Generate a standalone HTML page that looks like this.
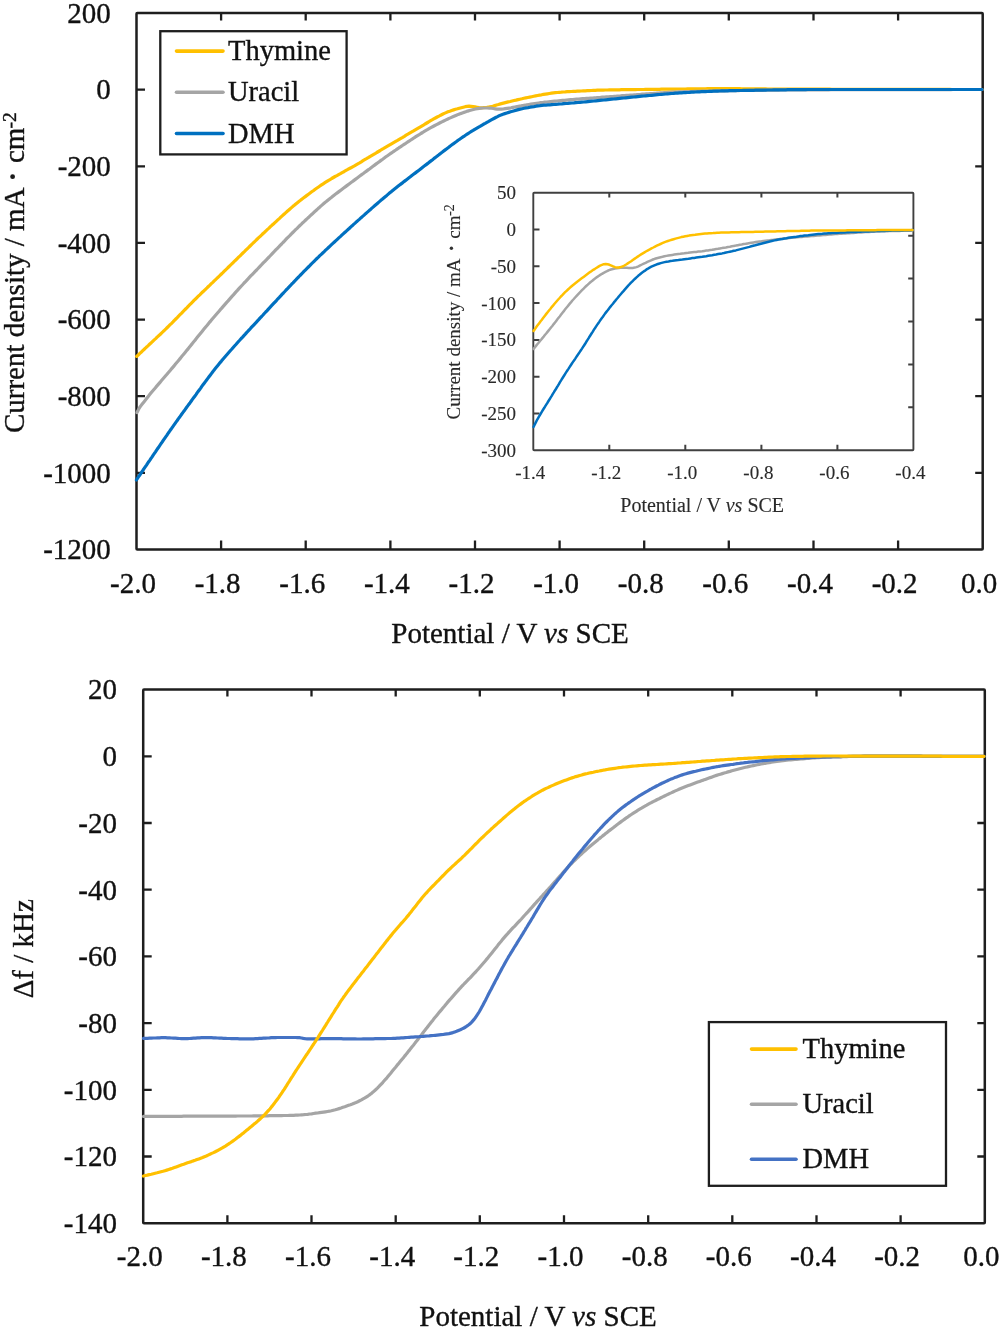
<!DOCTYPE html>
<html><head><meta charset="utf-8"><style>
html,body{margin:0;padding:0;background:#fff;}
svg{display:block;will-change:transform;}
text{font-family:"Liberation Serif",serif;fill:#111;stroke:#111;stroke-width:0.35px;}
.t29{font-size:29px;}
.t28{font-size:28.5px;}
.t17{font-size:19.5px;}
.t19{font-size:19px;fill:#2a2a2a;stroke:#2a2a2a;stroke-width:0.12px;}
.t20{font-size:20px;fill:#2a2a2a;stroke:#2a2a2a;stroke-width:0.12px;}
.t12{font-size:14px;fill:#2a2a2a;stroke:#2a2a2a;stroke-width:0.1px;}
</style></head><body>
<svg width="1000" height="1330" viewBox="0 0 1000 1330">
<rect width="1000" height="1330" fill="#fff"/>
<g>
<path d="M221.1,13.0 V20.5 M221.1,549.5 V540.5 M305.7,13.0 V20.5 M305.7,549.5 V540.5 M390.4,13.0 V20.5 M390.4,549.5 V540.5 M475.0,13.0 V20.5 M475.0,549.5 V540.5 M559.6,13.0 V20.5 M559.6,549.5 V540.5 M644.2,13.0 V20.5 M644.2,549.5 V540.5 M728.8,13.0 V20.5 M728.8,549.5 V540.5 M813.5,13.0 V20.5 M813.5,549.5 V540.5 M898.1,13.0 V20.5 M898.1,549.5 V540.5 M136.5,89.6 H145.0 M136.5,166.3 H145.0 M136.5,242.9 H145.0 M136.5,319.6 H145.0 M136.5,396.2 H145.0 M136.5,472.9 H145.0 M982.7,89.6 H975.2 M982.7,166.3 H975.2 M982.7,242.9 H975.2 M982.7,319.6 H975.2 M982.7,396.2 H975.2 M982.7,472.9 H975.2" stroke="#1e1e1e" stroke-width="2.3" fill="none"/>
<rect x="136.5" y="13.0" width="846.2" height="536.5" stroke="#1e1e1e" stroke-width="2.5" fill="none" rx="0.8"/>
<text x="110.8" y="22.8" class="t29" text-anchor="end">200</text>
<text x="110.8" y="99.4" class="t29" text-anchor="end">0</text>
<text x="110.8" y="176.1" class="t29" text-anchor="end">-200</text>
<text x="110.8" y="252.7" class="t29" text-anchor="end">-400</text>
<text x="110.8" y="329.4" class="t29" text-anchor="end">-600</text>
<text x="110.8" y="406.0" class="t29" text-anchor="end">-800</text>
<text x="110.8" y="482.7" class="t29" text-anchor="end">-1000</text>
<text x="110.8" y="559.3" class="t29" text-anchor="end">-1200</text>
<text x="133.0" y="592.5" class="t29" text-anchor="middle">-2.0</text>
<text x="217.6" y="592.5" class="t29" text-anchor="middle">-1.8</text>
<text x="302.2" y="592.5" class="t29" text-anchor="middle">-1.6</text>
<text x="386.9" y="592.5" class="t29" text-anchor="middle">-1.4</text>
<text x="471.5" y="592.5" class="t29" text-anchor="middle">-1.2</text>
<text x="556.1" y="592.5" class="t29" text-anchor="middle">-1.0</text>
<text x="640.7" y="592.5" class="t29" text-anchor="middle">-0.8</text>
<text x="725.3" y="592.5" class="t29" text-anchor="middle">-0.6</text>
<text x="810.0" y="592.5" class="t29" text-anchor="middle">-0.4</text>
<text x="894.6" y="592.5" class="t29" text-anchor="middle">-0.2</text>
<text x="979.2" y="592.5" class="t29" text-anchor="middle">0.0</text>
<text x="510" y="643" class="t29" text-anchor="middle">Potential / V <tspan font-style="italic">vs</tspan> SCE</text>
<g transform="translate(23.9,440) rotate(-90)"><text x="6.9" y="0" class="t29">Current density / mA</text><text x="276.9" y="0" class="t29">cm</text><text x="311.5" y="-8.3" class="t17">-2</text></g>
<circle cx="12.6" cy="176.7" r="2.4" fill="#1a1a1a"/>
<rect x="160.3" y="31.2" width="186.3" height="123.2" stroke="#1e1e1e" stroke-width="2.3" fill="#fff"/>
<path d="M176.5,51.1 H223" stroke="#FFC000" stroke-width="3.6" stroke-linecap="round"/>
<text x="228" y="60.1" class="t28">Thymine</text>
<path d="M176.5,92.3 H223" stroke="#A5A5A5" stroke-width="3.6" stroke-linecap="round"/>
<text x="228" y="101.3" class="t28">Uracil</text>
<path d="M176.5,133.5 H223" stroke="#0070C0" stroke-width="3.6" stroke-linecap="round"/>
<text x="228" y="142.5" class="t28">DMH</text>
<path d="M136.7,356.4 138.2,355.0 139.6,353.6 141.1,352.3 142.5,350.9 144.0,349.5 145.4,348.1 146.9,346.8 148.4,345.4 149.8,344.0 151.3,342.7 152.7,341.3 154.2,339.9 155.7,338.6 157.1,337.2 158.6,335.8 160.1,334.5 161.5,333.1 163.0,331.7 164.4,330.3 165.9,328.9 167.3,327.5 168.7,326.1 170.1,324.7 171.6,323.3 173.0,321.9 174.4,320.4 175.8,319.0 177.2,317.6 178.6,316.1 180.0,314.7 181.4,313.3 182.8,311.8 184.2,310.4 185.6,309.0 187.0,307.6 188.4,306.1 189.8,304.7 191.2,303.3 192.6,301.9 194.0,300.4 195.5,299.0 196.9,297.6 198.3,296.2 199.8,294.8 201.2,293.4 202.6,292.0 204.1,290.7 205.5,289.3 207.0,287.9 208.4,286.5 209.9,285.1 211.3,283.7 212.8,282.3 214.2,280.9 215.6,279.6 217.1,278.2 218.5,276.8 220.0,275.4 221.4,274.0 222.9,272.6 224.3,271.2 225.7,269.8 227.2,268.4 228.6,267.0 230.0,265.6 231.5,264.2 232.9,262.8 234.3,261.4 235.8,260.0 237.2,258.6 238.6,257.2 240.1,255.8 241.5,254.4 242.9,253.0 244.4,251.6 245.8,250.2 247.2,248.8 248.7,247.4 250.1,246.0 251.5,244.6 253.0,243.2 254.4,241.8 255.9,240.4 257.3,239.0 258.7,237.7 260.2,236.3 261.7,234.9 263.1,233.5 264.6,232.2 266.0,230.8 267.5,229.4 269.0,228.1 270.4,226.7 271.9,225.3 273.4,224.0 274.9,222.6 276.3,221.3 277.8,219.9 279.3,218.6 280.8,217.2 282.2,215.9 283.7,214.5 285.2,213.2 286.7,211.8 288.2,210.5 289.7,209.2 291.2,207.9 292.7,206.6 294.3,205.3 295.8,204.0 297.4,202.7 298.9,201.5 300.5,200.3 302.1,199.0 303.7,197.8 305.3,196.6 306.9,195.4 308.5,194.2 310.1,193.0 311.7,191.8 313.3,190.7 314.9,189.5 316.6,188.3 318.2,187.2 319.9,186.0 321.5,184.9 323.2,183.8 324.9,182.7 326.5,181.7 328.2,180.6 330.0,179.6 331.7,178.5 333.4,177.5 335.1,176.5 336.9,175.6 338.6,174.6 340.4,173.6 342.1,172.6 343.9,171.7 345.6,170.7 347.4,169.7 349.1,168.7 350.9,167.8 352.6,166.8 354.4,165.8 356.1,164.8 357.8,163.8 359.6,162.8 361.3,161.8 363.0,160.7 364.7,159.7 366.5,158.7 368.2,157.7 369.9,156.6 371.6,155.6 373.3,154.6 375.1,153.6 376.8,152.5 378.5,151.5 380.2,150.5 381.9,149.4 383.7,148.4 385.4,147.4 387.1,146.4 388.8,145.4 390.6,144.3 392.3,143.3 394.0,142.3 395.7,141.3 397.5,140.3 399.2,139.3 400.9,138.3 402.7,137.3 404.4,136.3 406.1,135.2 407.9,134.2 409.6,133.2 411.3,132.2 413.1,131.2 414.8,130.2 416.5,129.2 418.2,128.2 420.0,127.1 421.7,126.1 423.4,125.1 425.1,124.0 426.8,123.0 428.5,122.0 430.2,120.9 432.0,119.9 433.7,118.9 435.4,118.0 437.2,117.0 439.0,116.1 440.7,115.2 442.5,114.3 444.3,113.4 446.1,112.6 447.9,111.8 449.8,111.2 451.7,110.5 453.6,109.9 455.5,109.3 457.5,108.8 459.4,108.2 461.3,107.7 463.3,107.2 465.2,106.7 467.1,106.4 469.1,106.2 471.1,106.3 473.1,106.5 475.1,106.8 477.0,107.2 479.0,107.6 480.9,107.8 482.9,107.7 484.9,107.5 486.9,107.3 488.9,107.0 490.8,106.7 492.8,106.2 494.7,105.6 496.6,105.0 498.5,104.5 500.5,103.9 502.4,103.4 504.4,102.9 506.3,102.4 508.2,101.9 510.2,101.5 512.1,101.0 514.1,100.5 516.0,100.1 518.0,99.6 519.9,99.2 521.9,98.8 523.9,98.3 525.8,97.9 527.8,97.5 529.7,97.1 531.7,96.7 533.7,96.3 535.6,95.9 537.6,95.5 539.6,95.1 541.5,94.8 543.5,94.4 545.5,94.1 547.4,93.8 549.4,93.5 551.4,93.2 553.4,92.9 555.4,92.7 557.3,92.5 559.3,92.3 561.3,92.2 563.3,92.0 565.3,91.9 567.3,91.7 569.3,91.6 571.3,91.5 573.3,91.4 575.3,91.3 577.3,91.2 579.3,91.1 581.3,91.0 583.3,90.9 585.3,90.8 587.3,90.7 589.3,90.6 591.3,90.5 593.3,90.4 595.3,90.3 597.3,90.2 599.3,90.2 601.3,90.1 603.3,90.1 605.3,90.0 607.3,90.0 609.3,89.9 611.3,89.9 613.3,89.8 615.4,89.8 617.4,89.8 619.4,89.8 621.4,89.7 623.4,89.7 625.4,89.7 627.4,89.7 629.4,89.6 631.4,89.6 633.4,89.6 635.4,89.6 637.4,89.5 639.4,89.5 641.4,89.5 643.4,89.5 645.4,89.4 647.4,89.4 649.4,89.4 651.4,89.4 653.4,89.3 655.4,89.3 657.4,89.3 659.4,89.3 661.4,89.2 663.4,89.2 665.4,89.2 667.4,89.2 669.4,89.1 671.4,89.1 673.5,89.1 675.5,89.1 677.5,89.0 679.5,89.0 681.5,89.0 683.5,89.0 685.5,89.0 687.5,88.9 689.5,88.9 691.5,88.9 693.5,88.9 695.5,88.9 697.5,88.8 699.5,88.8 701.5,88.8 703.5,88.8 705.5,88.8 707.5,88.7 709.5,88.7 711.5,88.7 713.5,88.7 715.5,88.7 717.5,88.7 719.5,88.7 721.5,88.7 723.5,88.7 725.5,88.7 727.5,88.7 729.5,88.7 731.6,88.7 733.6,88.7 735.6,88.7 737.6,88.7 739.6,88.7 741.6,88.8 743.6,88.8 745.6,88.8 747.6,88.8 749.6,88.8 751.6,88.8 753.6,88.9 755.6,88.9 757.6,88.9 759.6,88.9 761.6,88.9 763.6,88.9 765.6,88.9 767.6,89.0 769.6,89.0 771.6,89.0 773.6,89.0 775.6,89.0 777.6,89.0 779.6,89.0 781.6,89.1 783.6,89.1 785.6,89.1 787.7,89.1 789.7,89.1 791.7,89.1 793.7,89.1 795.7,89.2 797.7,89.2 799.7,89.2 801.7,89.2 803.7,89.2 805.7,89.2 807.7,89.2 809.7,89.2 811.7,89.2 813.7,89.2 815.7,89.2 817.7,89.2 819.7,89.2 821.7,89.2 823.7,89.2 825.7,89.2 827.7,89.2 829.7,89.2 831.7,89.3 833.7,89.3 835.7,89.3 837.7,89.3 839.7,89.3 841.7,89.3 843.8,89.3 845.8,89.3 847.8,89.3 849.8,89.3 851.8,89.3 853.8,89.3 855.8,89.3 857.8,89.3 859.8,89.3 861.8,89.3 863.8,89.3 865.8,89.3 867.8,89.3 869.8,89.3 871.8,89.3 873.8,89.3 875.8,89.3 877.8,89.3 879.8,89.3 881.8,89.3 883.8,89.3 885.8,89.3 887.8,89.3 889.8,89.3 891.8,89.4 893.8,89.4 895.8,89.4 897.8,89.4 899.9,89.4 901.9,89.4 903.9,89.4 905.9,89.4 907.9,89.4 909.9,89.4 911.9,89.4 913.9,89.4 915.9,89.4 917.9,89.4 919.9,89.4 921.9,89.4 923.9,89.4 925.9,89.4 927.9,89.4 929.9,89.4 931.9,89.4 933.9,89.4 935.9,89.4 937.9,89.4 939.9,89.4 941.9,89.4 943.9,89.4 945.9,89.4 947.9,89.4 949.9,89.4 951.9,89.5 953.9,89.5 956.0,89.5 958.0,89.5 960.0,89.5 962.0,89.5 964.0,89.5 966.0,89.5 968.0,89.5 970.0,89.5 972.0,89.5 974.0,89.5 976.0,89.5 978.0,89.5 980.0,89.5 982.0,89.5" stroke="#FFC000" stroke-width="3.2" fill="none" stroke-linejoin="round" stroke-linecap="round"/>
<path d="M137.0,412.5 137.9,410.7 138.8,408.9 139.9,407.2 141.0,405.6 142.2,404.0 143.5,402.4 144.7,400.9 146.0,399.3 147.2,397.7 148.4,396.2 149.7,394.6 150.9,393.1 152.2,391.5 153.5,390.0 154.8,388.5 156.1,386.9 157.4,385.4 158.7,383.9 160.0,382.4 161.3,380.8 162.6,379.3 163.9,377.8 165.2,376.3 166.5,374.8 167.8,373.2 169.1,371.7 170.4,370.2 171.7,368.6 173.0,367.1 174.3,365.6 175.5,364.0 176.8,362.5 178.1,361.0 179.4,359.4 180.7,357.9 181.9,356.3 183.2,354.8 184.5,353.2 185.7,351.7 187.0,350.1 188.3,348.6 189.5,347.0 190.8,345.4 192.1,343.9 193.3,342.3 194.6,340.8 195.8,339.2 197.1,337.6 198.3,336.1 199.6,334.5 200.8,333.0 202.1,331.4 203.4,329.8 204.6,328.3 205.9,326.7 207.2,325.2 208.4,323.7 209.7,322.1 211.0,320.6 212.3,319.0 213.6,317.5 214.9,316.0 216.2,314.5 217.5,313.0 218.8,311.5 220.1,309.9 221.5,308.4 222.8,306.9 224.1,305.4 225.4,303.9 226.7,302.4 228.1,300.9 229.4,299.4 230.7,297.9 232.0,296.4 233.4,294.9 234.7,293.4 236.0,291.9 237.4,290.4 238.7,288.9 240.1,287.4 241.4,286.0 242.8,284.5 244.1,283.0 245.5,281.6 246.9,280.1 248.3,278.6 249.6,277.2 251.0,275.7 252.4,274.3 253.8,272.9 255.2,271.4 256.6,270.0 258.0,268.5 259.3,267.1 260.7,265.6 262.1,264.2 263.5,262.7 264.9,261.3 266.3,259.9 267.7,258.4 269.1,257.0 270.5,255.5 271.8,254.1 273.2,252.6 274.6,251.2 276.0,249.7 277.4,248.3 278.8,246.9 280.2,245.4 281.6,244.0 283.0,242.5 284.4,241.1 285.7,239.7 287.1,238.2 288.5,236.8 290.0,235.4 291.4,233.9 292.8,232.5 294.2,231.1 295.6,229.7 297.1,228.3 298.5,226.9 299.9,225.5 301.4,224.1 302.8,222.7 304.3,221.4 305.7,220.0 307.2,218.6 308.7,217.3 310.1,215.9 311.6,214.5 313.1,213.2 314.5,211.8 316.0,210.5 317.5,209.1 319.0,207.8 320.5,206.4 322.0,205.1 323.5,203.8 325.0,202.5 326.6,201.3 328.1,200.0 329.7,198.7 331.3,197.5 332.8,196.3 334.4,195.0 336.0,193.8 337.6,192.6 339.2,191.4 340.8,190.2 342.4,189.0 344.0,187.8 345.6,186.6 347.2,185.4 348.8,184.2 350.4,183.0 352.1,181.8 353.7,180.6 355.3,179.4 356.9,178.2 358.5,177.0 360.1,175.8 361.7,174.6 363.3,173.5 364.9,172.3 366.5,171.1 368.1,169.9 369.8,168.7 371.4,167.5 373.0,166.3 374.6,165.1 376.2,163.9 377.8,162.7 379.4,161.6 381.0,160.4 382.7,159.2 384.3,158.0 385.9,156.8 387.5,155.7 389.2,154.5 390.8,153.4 392.5,152.2 394.1,151.1 395.8,150.0 397.4,148.9 399.1,147.7 400.8,146.6 402.4,145.5 404.1,144.4 405.8,143.3 407.4,142.2 409.1,141.1 410.8,140.0 412.5,138.9 414.1,137.8 415.8,136.7 417.5,135.6 419.2,134.6 420.9,133.5 422.6,132.5 424.3,131.4 426.0,130.4 427.8,129.4 429.5,128.4 431.3,127.4 433.0,126.5 434.8,125.5 436.5,124.6 438.3,123.7 440.1,122.8 441.9,121.9 443.7,121.0 445.5,120.1 447.3,119.3 449.1,118.4 450.9,117.6 452.8,116.8 454.6,116.0 456.4,115.2 458.3,114.4 460.1,113.7 462.0,113.1 463.9,112.4 465.8,111.8 467.7,111.1 469.6,110.5 471.5,110.0 473.4,109.5 475.4,109.0 477.3,108.6 479.3,108.3 481.3,108.1 483.3,108.0 485.3,108.0 487.3,108.0 489.3,108.1 491.3,108.2 493.3,108.5 495.2,108.8 497.2,109.1 499.2,109.2 501.2,109.2 503.2,109.0 505.1,108.7 507.1,108.4 509.1,108.1 511.1,107.8 513.0,107.4 515.0,107.0 517.0,106.6 518.9,106.2 520.9,105.9 522.9,105.5 524.9,105.2 526.8,104.8 528.8,104.5 530.8,104.2 532.8,103.9 534.7,103.6 536.7,103.3 538.7,103.0 540.7,102.7 542.7,102.5 544.7,102.2 546.7,102.0 548.6,101.8 550.6,101.6 552.6,101.4 554.6,101.2 556.6,101.0 558.6,100.8 560.6,100.6 562.6,100.4 564.6,100.3 566.6,100.1 568.6,99.9 570.6,99.7 572.6,99.6 574.6,99.4 576.6,99.2 578.6,99.1 580.6,98.9 582.6,98.7 584.6,98.6 586.6,98.4 588.6,98.3 590.6,98.1 592.5,98.0 594.5,97.8 596.5,97.7 598.5,97.5 600.5,97.4 602.5,97.2 604.5,97.1 606.5,96.9 608.5,96.8 610.5,96.6 612.5,96.5 614.5,96.3 616.5,96.2 618.5,96.0 620.5,95.9 622.5,95.7 624.5,95.6 626.5,95.4 628.5,95.3 630.5,95.1 632.5,95.0 634.5,94.8 636.5,94.7 638.5,94.5 640.5,94.4 642.5,94.2 644.5,94.1 646.5,93.9 648.5,93.8 650.5,93.6 652.5,93.5 654.5,93.3 656.5,93.2 658.5,93.0 660.5,92.9 662.5,92.8 664.5,92.6 666.5,92.5 668.5,92.4 670.5,92.3 672.5,92.2 674.5,92.1 676.5,92.0 678.5,91.9 680.5,91.8 682.5,91.8 684.5,91.7 686.5,91.7 688.5,91.6 690.5,91.5 692.5,91.5 694.5,91.4 696.5,91.4 698.5,91.3 700.5,91.3 702.5,91.2 704.5,91.2 706.5,91.1 708.5,91.1 710.5,91.0 712.5,91.0 714.5,91.0 716.5,90.9 718.5,90.9 720.5,90.8 722.5,90.8 724.5,90.8 726.6,90.7 728.6,90.7 730.6,90.7 732.6,90.6 734.6,90.6 736.6,90.6 738.6,90.6 740.6,90.5 742.6,90.5 744.6,90.5 746.6,90.5 748.6,90.4 750.6,90.4 752.6,90.4 754.6,90.4 756.6,90.3 758.6,90.3 760.6,90.3 762.6,90.3 764.6,90.2 766.6,90.2 768.6,90.2 770.6,90.2 772.6,90.1 774.6,90.1 776.6,90.1 778.6,90.1 780.6,90.0 782.6,90.0 784.6,90.0 786.7,90.0 788.7,89.9 790.7,89.9 792.7,89.9 794.7,89.9 796.7,89.9 798.7,89.9 800.7,89.8 802.7,89.8 804.7,89.8 806.7,89.8 808.7,89.8 810.7,89.8 812.7,89.8 814.7,89.8 816.7,89.8 818.7,89.8 820.7,89.8 822.7,89.8 824.7,89.8 826.7,89.8 828.7,89.8 830.7,89.7 832.7,89.7 834.7,89.7 836.7,89.7 838.7,89.7 840.7,89.7 842.8,89.7 844.8,89.7 846.8,89.7 848.8,89.7 850.8,89.7 852.8,89.7 854.8,89.7 856.8,89.7 858.8,89.7 860.8,89.7 862.8,89.7 864.8,89.7 866.8,89.7 868.8,89.7 870.8,89.7 872.8,89.7 874.8,89.7 876.8,89.7 878.8,89.7 880.8,89.7 882.8,89.7 884.8,89.7 886.8,89.7 888.8,89.7 890.8,89.7 892.8,89.6 894.8,89.6 896.8,89.6 898.9,89.6 900.9,89.6 902.9,89.6 904.9,89.6 906.9,89.6 908.9,89.6 910.9,89.6 912.9,89.6 914.9,89.6 916.9,89.6 918.9,89.6 920.9,89.6 922.9,89.6 924.9,89.6 926.9,89.6 928.9,89.6 930.9,89.6 932.9,89.6 934.9,89.6 936.9,89.6 938.9,89.6 940.9,89.6 942.9,89.6 944.9,89.6 946.9,89.6 948.9,89.6 950.9,89.6 952.9,89.5 955.0,89.5 957.0,89.5 959.0,89.5 961.0,89.5 963.0,89.5 965.0,89.5 967.0,89.5 969.0,89.5 971.0,89.5 973.0,89.5 975.0,89.5 977.0,89.5 979.0,89.5 981.0,89.5 982.0,89.5" stroke="#A5A5A5" stroke-width="3.2" fill="none" stroke-linejoin="round" stroke-linecap="round"/>
<path d="M136.4,480.0 137.5,478.3 138.6,476.7 139.8,475.0 140.9,473.4 142.0,471.7 143.1,470.0 144.2,468.4 145.4,466.7 146.5,465.1 147.6,463.4 148.7,461.7 149.9,460.1 151.0,458.4 152.1,456.8 153.2,455.1 154.4,453.4 155.5,451.8 156.6,450.1 157.7,448.5 158.9,446.8 160.0,445.2 161.1,443.5 162.3,441.9 163.4,440.2 164.5,438.6 165.7,436.9 166.8,435.3 167.9,433.6 169.1,432.0 170.2,430.3 171.4,428.7 172.5,427.1 173.7,425.4 174.8,423.8 176.0,422.1 177.2,420.5 178.3,418.9 179.5,417.3 180.7,415.6 181.8,414.0 183.0,412.4 184.2,410.8 185.4,409.1 186.5,407.5 187.7,405.9 188.9,404.3 190.1,402.7 191.3,401.0 192.4,399.4 193.6,397.8 194.8,396.2 196.0,394.6 197.1,392.9 198.3,391.3 199.5,389.7 200.7,388.1 201.8,386.4 203.0,384.8 204.2,383.2 205.4,381.6 206.6,380.0 207.8,378.4 209.0,376.8 210.2,375.2 211.4,373.6 212.6,372.0 213.8,370.4 215.1,368.8 216.3,367.3 217.6,365.7 218.8,364.2 220.1,362.6 221.4,361.1 222.7,359.5 224.0,358.0 225.3,356.5 226.6,355.0 227.9,353.5 229.2,352.0 230.5,350.5 231.9,349.0 233.2,347.5 234.5,346.0 235.9,344.5 237.2,343.0 238.5,341.5 239.9,340.0 241.2,338.5 242.6,337.1 243.9,335.6 245.3,334.1 246.6,332.6 248.0,331.2 249.4,329.7 250.7,328.2 252.1,326.7 253.4,325.3 254.8,323.8 256.2,322.3 257.5,320.9 258.9,319.4 260.2,317.9 261.6,316.5 263.0,315.0 264.3,313.5 265.7,312.0 267.1,310.6 268.4,309.1 269.8,307.6 271.1,306.2 272.5,304.7 273.9,303.2 275.2,301.8 276.6,300.3 277.9,298.8 279.3,297.4 280.7,295.9 282.0,294.4 283.4,293.0 284.8,291.5 286.1,290.0 287.5,288.6 288.9,287.1 290.3,285.7 291.6,284.2 293.0,282.8 294.4,281.3 295.8,279.9 297.2,278.4 298.6,277.0 300.0,275.5 301.4,274.1 302.8,272.7 304.2,271.2 305.6,269.8 307.0,268.4 308.4,267.0 309.8,265.6 311.2,264.1 312.7,262.7 314.1,261.3 315.5,259.9 316.9,258.5 318.4,257.1 319.8,255.7 321.3,254.3 322.7,253.0 324.2,251.6 325.6,250.2 327.1,248.8 328.5,247.5 330.0,246.1 331.5,244.7 332.9,243.4 334.4,242.0 335.9,240.6 337.3,239.3 338.8,237.9 340.3,236.6 341.8,235.2 343.2,233.9 344.7,232.5 346.2,231.2 347.7,229.8 349.2,228.5 350.6,227.1 352.1,225.8 353.6,224.4 355.1,223.1 356.6,221.7 358.1,220.4 359.6,219.1 361.1,217.7 362.6,216.4 364.1,215.1 365.6,213.7 367.1,212.4 368.6,211.1 370.1,209.8 371.6,208.4 373.1,207.1 374.6,205.8 376.1,204.5 377.6,203.2 379.1,201.9 380.6,200.6 382.2,199.3 383.7,198.0 385.2,196.7 386.8,195.4 388.3,194.1 389.8,192.8 391.4,191.6 393.0,190.3 394.5,189.1 396.1,187.8 397.6,186.6 399.2,185.3 400.8,184.1 402.4,182.9 404.0,181.6 405.6,180.4 407.1,179.2 408.7,178.0 410.3,176.8 411.9,175.5 413.5,174.3 415.1,173.1 416.7,171.9 418.3,170.7 419.9,169.5 421.5,168.2 423.0,167.0 424.6,165.8 426.2,164.6 427.8,163.4 429.4,162.1 431.0,160.9 432.6,159.7 434.1,158.4 435.7,157.2 437.3,156.0 438.9,154.8 440.5,153.5 442.1,152.3 443.6,151.1 445.2,149.9 446.8,148.7 448.4,147.5 450.0,146.2 451.6,145.0 453.2,143.9 454.8,142.7 456.5,141.5 458.1,140.3 459.7,139.2 461.4,138.0 463.0,136.9 464.7,135.8 466.3,134.7 468.0,133.6 469.7,132.5 471.4,131.4 473.1,130.4 474.8,129.3 476.5,128.3 478.2,127.3 480.0,126.3 481.7,125.3 483.4,124.3 485.2,123.4 486.9,122.4 488.7,121.4 490.4,120.4 492.2,119.4 493.9,118.5 495.7,117.5 497.5,116.6 499.2,115.7 501.1,114.9 502.9,114.2 504.8,113.6 506.8,113.0 508.7,112.4 510.6,111.8 512.5,111.3 514.4,110.7 516.4,110.1 518.3,109.6 520.2,109.1 522.2,108.7 524.1,108.3 526.1,107.9 528.1,107.6 530.1,107.2 532.0,106.9 534.0,106.6 536.0,106.2 538.0,105.9 539.9,105.7 541.9,105.4 543.9,105.2 545.9,105.1 547.9,104.9 549.9,104.8 551.9,104.6 553.9,104.5 555.9,104.3 557.9,104.2 559.9,104.0 561.9,103.9 563.9,103.7 565.9,103.5 567.9,103.4 569.9,103.2 571.9,103.0 573.9,102.9 575.9,102.7 577.9,102.5 579.9,102.3 581.8,102.1 583.8,102.0 585.8,101.8 587.8,101.6 589.8,101.4 591.8,101.2 593.8,101.0 595.8,100.8 597.8,100.6 599.8,100.4 601.8,100.2 603.8,100.0 605.8,99.8 607.8,99.6 609.8,99.4 611.8,99.2 613.7,99.0 615.7,98.8 617.7,98.6 619.7,98.4 621.7,98.2 623.7,98.0 625.7,97.8 627.7,97.6 629.7,97.4 631.7,97.2 633.7,97.0 635.7,96.8 637.7,96.6 639.7,96.4 641.7,96.2 643.7,96.0 645.6,95.8 647.6,95.6 649.6,95.5 651.6,95.3 653.6,95.1 655.6,94.9 657.6,94.7 659.6,94.5 661.6,94.3 663.6,94.2 665.6,94.0 667.6,93.8 669.6,93.7 671.6,93.5 673.6,93.4 675.6,93.2 677.6,93.1 679.6,92.9 681.6,92.8 683.6,92.7 685.6,92.6 687.6,92.5 689.6,92.4 691.6,92.2 693.6,92.1 695.6,92.0 697.6,91.9 699.6,91.8 701.6,91.7 703.6,91.7 705.6,91.6 707.6,91.5 709.6,91.4 711.6,91.3 713.6,91.2 715.6,91.1 717.6,91.1 719.6,91.0 721.6,90.9 723.6,90.9 725.6,90.8 727.6,90.8 729.6,90.7 731.6,90.7 733.6,90.6 735.6,90.6 737.6,90.5 739.6,90.5 741.6,90.5 743.6,90.4 745.6,90.4 747.6,90.4 749.6,90.3 751.6,90.3 753.6,90.3 755.6,90.2 757.6,90.2 759.6,90.2 761.6,90.1 763.6,90.1 765.6,90.1 767.6,90.0 769.7,90.0 771.7,90.0 773.7,89.9 775.7,89.9 777.7,89.9 779.7,89.8 781.7,89.8 783.7,89.8 785.7,89.8 787.7,89.7 789.7,89.7 791.7,89.7 793.7,89.7 795.7,89.6 797.7,89.6 799.7,89.6 801.7,89.6 803.7,89.6 805.7,89.6 807.7,89.5 809.7,89.5 811.7,89.5 813.7,89.5 815.7,89.5 817.7,89.5 819.7,89.5 821.7,89.5 823.7,89.5 825.7,89.5 827.7,89.5 829.7,89.5 831.8,89.5 833.8,89.5 835.8,89.5 837.8,89.5 839.8,89.5 841.8,89.5 843.8,89.5 845.8,89.5 847.8,89.5 849.8,89.5 851.8,89.5 853.8,89.5 855.8,89.5 857.8,89.5 859.8,89.5 861.8,89.5 863.8,89.5 865.8,89.5 867.8,89.5 869.8,89.5 871.8,89.5 873.8,89.5 875.8,89.5 877.8,89.5 879.8,89.5 881.8,89.5 883.8,89.5 885.8,89.5 887.8,89.5 889.8,89.5 891.9,89.5 893.9,89.5 895.9,89.5 897.9,89.5 899.9,89.5 901.9,89.5 903.9,89.5 905.9,89.5 907.9,89.5 909.9,89.5 911.9,89.5 913.9,89.5 915.9,89.5 917.9,89.5 919.9,89.5 921.9,89.5 923.9,89.5 925.9,89.5 927.9,89.5 929.9,89.5 931.9,89.5 933.9,89.5 935.9,89.5 937.9,89.5 939.9,89.5 941.9,89.5 943.9,89.5 945.9,89.5 947.9,89.5 949.9,89.5 952.0,89.5 954.0,89.5 956.0,89.5 958.0,89.5 960.0,89.5 962.0,89.5 964.0,89.5 966.0,89.5 968.0,89.5 970.0,89.5 972.0,89.5 974.0,89.5 976.0,89.5 978.0,89.5 980.0,89.5 982.0,89.5" stroke="#0070C0" stroke-width="3.2" fill="none" stroke-linejoin="round" stroke-linecap="round"/>
<path d="M609.3,192.8 V197.60000000000002 M609.3,450.2 V444.7 M685.3,192.8 V197.60000000000002 M685.3,450.2 V444.7 M761.4,192.8 V197.60000000000002 M761.4,450.2 V444.7 M837.4,192.8 V197.60000000000002 M837.4,450.2 V444.7 M533.3,229.6 H539.5 M533.3,266.3 H539.5 M533.3,303.1 H539.5 M533.3,339.9 H539.5 M533.3,376.7 H539.5 M533.3,413.4 H539.5 M913.4,235.7 H908.1999999999999 M913.4,278.6 H908.1999999999999 M913.4,321.5 H908.1999999999999 M913.4,364.4 H908.1999999999999 M913.4,407.3 H908.1999999999999" stroke="#404040" stroke-width="2.0" fill="none"/>
<rect x="533.3" y="192.8" width="380.1" height="257.4" stroke="#404040" stroke-width="1.9" fill="none" rx="0.8"/>
<text x="516" y="199.3" class="t19" text-anchor="end">50</text>
<text x="516" y="236.1" class="t19" text-anchor="end">0</text>
<text x="516" y="272.8" class="t19" text-anchor="end">-50</text>
<text x="516" y="309.6" class="t19" text-anchor="end">-100</text>
<text x="516" y="346.4" class="t19" text-anchor="end">-150</text>
<text x="516" y="383.2" class="t19" text-anchor="end">-200</text>
<text x="516" y="419.9" class="t19" text-anchor="end">-250</text>
<text x="516" y="456.7" class="t19" text-anchor="end">-300</text>
<text x="530.3" y="478.8" class="t19" text-anchor="middle">-1.4</text>
<text x="606.3" y="478.8" class="t19" text-anchor="middle">-1.2</text>
<text x="682.3" y="478.8" class="t19" text-anchor="middle">-1.0</text>
<text x="758.4" y="478.8" class="t19" text-anchor="middle">-0.8</text>
<text x="834.4" y="478.8" class="t19" text-anchor="middle">-0.6</text>
<text x="910.4" y="478.8" class="t19" text-anchor="middle">-0.4</text>
<text x="702.2" y="512" class="t20" text-anchor="middle">Potential / V <tspan font-style="italic">vs</tspan> SCE</text>
<g transform="translate(459.6,420) rotate(-90)"><text x="0.6" y="0" class="t19">Current density / mA</text><text x="181.3" y="0" class="t19">cm</text><text x="204.1" y="-5.8" class="t12">-2</text></g>
<circle cx="451.4" cy="248.3" r="1.7" fill="#333"/>
<path d="M533.5,349.0 534.8,347.4 536.0,345.9 537.3,344.3 538.6,342.8 539.8,341.2 541.1,339.7 542.4,338.1 543.7,336.6 544.9,335.0 546.2,333.5 547.5,331.9 548.7,330.4 550.0,328.8 551.2,327.2 552.5,325.7 553.7,324.1 555.0,322.5 556.2,320.9 557.4,319.3 558.6,317.8 559.9,316.2 561.1,314.6 562.3,313.0 563.6,311.4 564.8,309.8 566.0,308.3 567.3,306.7 568.6,305.1 569.8,303.6 571.1,302.1 572.4,300.5 573.8,299.0 575.1,297.5 576.4,296.1 577.8,294.6 579.2,293.1 580.6,291.7 582.0,290.2 583.4,288.8 584.8,287.4 586.2,286.0 587.7,284.7 589.2,283.3 590.7,282.0 592.3,280.8 593.8,279.5 595.4,278.3 597.0,277.1 598.6,276.0 600.3,274.9 602.0,273.8 603.7,272.8 605.5,271.9 607.3,271.0 609.1,270.2 610.9,269.5 612.9,269.0 614.8,268.5 616.8,268.2 618.8,267.9 620.7,267.7 622.7,267.7 624.7,267.7 626.7,267.8 628.8,267.9 630.8,267.9 632.7,267.9 634.7,267.6 636.5,267.1 638.4,266.3 640.2,265.4 642.0,264.5 643.8,263.6 645.6,262.8 647.4,261.9 649.2,261.1 651.1,260.3 652.9,259.5 654.8,258.8 656.7,258.2 658.6,257.7 660.6,257.2 662.5,256.8 664.5,256.3 666.4,255.9 668.4,255.5 670.4,255.2 672.3,254.9 674.3,254.6 676.3,254.3 678.3,254.0 680.3,253.8 682.3,253.5 684.3,253.3 686.3,253.0 688.2,252.8 690.2,252.5 692.2,252.3 694.2,252.1 696.2,251.9 698.2,251.6 700.2,251.4 702.2,251.2 704.2,250.9 706.2,250.6 708.1,250.4 710.1,250.1 712.1,249.8 714.1,249.4 716.1,249.1 718.0,248.8 720.0,248.4 722.0,248.1 724.0,247.7 725.9,247.4 727.9,247.0 729.9,246.7 731.9,246.3 733.8,245.9 735.8,245.6 737.8,245.2 739.8,244.8 741.7,244.5 743.7,244.1 745.7,243.8 747.7,243.4 749.6,243.1 751.6,242.7 753.6,242.4 755.6,242.1 757.6,241.8 759.5,241.5 761.5,241.3 763.5,241.0 765.5,240.7 767.5,240.5 769.5,240.3 771.5,240.0 773.5,239.8 775.5,239.5 777.4,239.3 779.4,239.1 781.4,238.8 783.4,238.6 785.4,238.4 787.4,238.2 789.4,238.0 791.4,237.8 793.4,237.6 795.4,237.4 797.4,237.2 799.4,237.1 801.4,236.9 803.4,236.7 805.4,236.5 807.4,236.4 809.4,236.2 811.4,236.0 813.4,235.9 815.4,235.7 817.4,235.5 819.4,235.4 821.4,235.2 823.4,235.0 825.4,234.9 827.4,234.7 829.4,234.6 831.4,234.4 833.4,234.3 835.4,234.1 837.4,234.0 839.4,233.8 841.4,233.7 843.4,233.6 845.4,233.4 847.4,233.3 849.4,233.2 851.4,233.0 853.4,232.9 855.4,232.8 857.4,232.6 859.4,232.5 861.4,232.4 863.4,232.2 865.4,232.1 867.4,232.0 869.4,231.9 871.4,231.8 873.4,231.7 875.4,231.6 877.4,231.5 879.4,231.4 881.4,231.3 883.4,231.3 885.4,231.2 887.4,231.2 889.4,231.1 891.4,231.1 893.4,231.0 895.5,231.0 897.5,230.9 899.5,230.9 901.5,230.8 903.5,230.8 905.5,230.8 907.5,230.7 909.5,230.7 911.5,230.6 912.5,230.6" stroke="#A5A5A5" stroke-width="2.5" fill="none" stroke-linejoin="round" stroke-linecap="round"/>
<path d="M533.5,427.0 534.4,425.2 535.3,423.4 536.2,421.6 537.1,419.8 538.1,418.1 539.1,416.4 540.2,414.6 541.2,412.9 542.2,411.2 543.2,409.5 544.3,407.8 545.3,406.1 546.4,404.4 547.5,402.7 548.5,401.0 549.6,399.3 550.6,397.6 551.7,395.9 552.7,394.1 553.8,392.4 554.8,390.7 555.9,389.0 556.9,387.3 558.0,385.6 559.0,383.9 560.0,382.1 561.1,380.4 562.1,378.7 563.2,377.0 564.3,375.3 565.3,373.6 566.4,371.9 567.5,370.2 568.6,368.6 569.7,366.9 570.8,365.2 571.9,363.5 573.0,361.9 574.2,360.2 575.3,358.6 576.4,356.9 577.5,355.2 578.7,353.6 579.8,351.9 580.9,350.2 582.0,348.6 583.1,346.9 584.2,345.2 585.3,343.5 586.3,341.8 587.4,340.1 588.5,338.4 589.5,336.7 590.6,335.0 591.7,333.3 592.8,331.6 593.8,329.9 594.9,328.3 596.0,326.6 597.1,324.9 598.3,323.2 599.4,321.6 600.5,319.9 601.7,318.3 602.9,316.7 604.0,315.1 605.2,313.4 606.4,311.9 607.7,310.3 608.9,308.7 610.1,307.1 611.4,305.5 612.7,304.0 613.9,302.4 615.2,300.9 616.5,299.3 617.8,297.8 619.0,296.2 620.3,294.7 621.6,293.2 623.0,291.7 624.3,290.1 625.6,288.6 626.9,287.1 628.2,285.6 629.6,284.2 631.0,282.7 632.4,281.3 633.8,279.9 635.3,278.5 636.8,277.1 638.2,275.8 639.8,274.5 641.3,273.2 642.9,272.0 644.6,270.9 646.2,269.7 647.9,268.7 649.6,267.6 651.4,266.7 653.2,265.9 655.0,265.1 656.9,264.3 658.8,263.7 660.7,263.1 662.6,262.6 664.6,262.1 666.5,261.7 668.5,261.4 670.5,261.0 672.5,260.8 674.4,260.5 676.4,260.2 678.4,260.0 680.4,259.7 682.4,259.5 684.4,259.2 686.4,258.9 688.4,258.7 690.4,258.4 692.3,258.1 694.3,257.9 696.3,257.6 698.3,257.3 700.3,257.0 702.3,256.8 704.3,256.5 706.3,256.2 708.2,255.8 710.2,255.5 712.2,255.2 714.2,254.8 716.1,254.5 718.1,254.1 720.1,253.7 722.1,253.4 724.0,253.0 726.0,252.5 727.9,252.1 729.9,251.7 731.9,251.3 733.8,250.8 735.8,250.4 737.7,249.9 739.7,249.4 741.6,248.9 743.6,248.4 745.5,247.9 747.4,247.4 749.4,246.9 751.3,246.3 753.2,245.8 755.2,245.3 757.1,244.7 759.0,244.2 761.0,243.7 762.9,243.2 764.9,242.7 766.8,242.2 768.8,241.7 770.7,241.3 772.7,240.8 774.6,240.4 776.6,240.0 778.6,239.6 780.5,239.2 782.5,238.9 784.5,238.5 786.4,238.2 788.4,237.8 790.4,237.5 792.4,237.2 794.4,236.9 796.4,236.7 798.3,236.4 800.3,236.1 802.3,235.9 804.3,235.6 806.3,235.4 808.3,235.2 810.3,234.9 812.3,234.7 814.3,234.5 816.3,234.3 818.3,234.1 820.3,233.9 822.3,233.8 824.3,233.6 826.3,233.5 828.3,233.3 830.3,233.2 832.3,233.1 834.3,233.0 836.3,232.9 838.3,232.7 840.3,232.6 842.3,232.5 844.3,232.4 846.3,232.3 848.3,232.2 850.3,232.1 852.3,232.0 854.3,231.9 856.3,231.9 858.3,231.8 860.3,231.7 862.3,231.6 864.4,231.5 866.4,231.4 868.4,231.4 870.4,231.3 872.4,231.2 874.4,231.2 876.4,231.1 878.4,231.0 880.4,231.0 882.4,230.9 884.4,230.9 886.4,230.8 888.4,230.8 890.4,230.7 892.4,230.6 894.4,230.6 896.4,230.5 898.5,230.5 900.5,230.4 902.5,230.4 904.5,230.3 906.5,230.3 908.5,230.2 910.5,230.2 912.5,230.1" stroke="#0070C0" stroke-width="2.5" fill="none" stroke-linejoin="round" stroke-linecap="round"/>
<path d="M533.5,331.0 534.7,329.4 535.8,327.7 537.0,326.1 538.2,324.5 539.4,322.9 540.6,321.3 541.9,319.7 543.1,318.1 544.3,316.5 545.5,314.9 546.7,313.4 548.0,311.8 549.2,310.2 550.5,308.7 551.7,307.1 553.0,305.6 554.3,304.0 555.6,302.5 556.9,301.0 558.2,299.5 559.6,298.0 560.9,296.5 562.3,295.1 563.7,293.6 565.1,292.2 566.6,290.8 568.0,289.5 569.5,288.1 571.0,286.8 572.5,285.5 574.1,284.2 575.6,283.0 577.2,281.7 578.8,280.5 580.4,279.3 582.0,278.1 583.6,276.9 585.2,275.7 586.8,274.5 588.4,273.3 590.0,272.1 591.7,271.0 593.3,269.8 595.0,268.8 596.7,267.7 598.4,266.6 600.1,265.6 602.0,264.9 603.8,264.2 605.7,263.9 607.6,264.2 609.5,264.8 611.4,265.6 613.2,266.4 615.0,267.1 616.9,267.6 618.8,267.5 620.8,267.0 622.7,266.4 624.4,265.5 626.1,264.5 627.8,263.4 629.5,262.3 631.2,261.2 632.8,260.0 634.4,258.9 636.1,257.7 637.7,256.6 639.4,255.5 641.1,254.4 642.8,253.4 644.5,252.4 646.3,251.3 648.0,250.3 649.8,249.4 651.5,248.4 653.3,247.5 655.0,246.6 656.8,245.7 658.6,244.8 660.5,244.0 662.3,243.2 664.1,242.4 666.0,241.7 667.9,241.0 669.8,240.4 671.7,239.8 673.6,239.2 675.5,238.6 677.4,238.1 679.4,237.6 681.3,237.1 683.3,236.7 685.2,236.3 687.2,235.9 689.1,235.6 691.1,235.2 693.1,234.9 695.1,234.7 697.1,234.4 699.1,234.2 701.1,234.0 703.0,233.8 705.0,233.6 707.0,233.5 709.0,233.3 711.0,233.2 713.0,233.1 715.0,232.9 717.0,232.8 719.0,232.7 721.0,232.6 723.0,232.6 725.0,232.5 727.1,232.4 729.1,232.4 731.1,232.3 733.1,232.3 735.1,232.3 737.1,232.2 739.1,232.2 741.1,232.1 743.1,232.1 745.1,232.1 747.1,232.0 749.1,232.0 751.1,231.9 753.1,231.9 755.1,231.8 757.1,231.8 759.1,231.8 761.1,231.7 763.1,231.7 765.1,231.6 767.1,231.6 769.1,231.5 771.2,231.5 773.2,231.4 775.2,231.4 777.2,231.3 779.2,231.3 781.2,231.3 783.2,231.2 785.2,231.2 787.2,231.1 789.2,231.1 791.2,231.0 793.2,231.0 795.2,230.9 797.2,230.9 799.2,230.9 801.2,230.8 803.2,230.8 805.2,230.7 807.2,230.7 809.2,230.7 811.2,230.6 813.3,230.6 815.3,230.6 817.3,230.6 819.3,230.5 821.3,230.5 823.3,230.5 825.3,230.5 827.3,230.5 829.3,230.5 831.3,230.5 833.3,230.4 835.3,230.4 837.3,230.4 839.3,230.4 841.3,230.4 843.3,230.4 845.3,230.4 847.3,230.3 849.3,230.3 851.3,230.3 853.4,230.3 855.4,230.3 857.4,230.3 859.4,230.3 861.4,230.2 863.4,230.2 865.4,230.2 867.4,230.2 869.4,230.2 871.4,230.2 873.4,230.2 875.4,230.2 877.4,230.1 879.4,230.1 881.4,230.1 883.4,230.1 885.4,230.1 887.4,230.1 889.4,230.1 891.4,230.0 893.5,230.0 895.5,230.0 897.5,230.0 899.5,230.0 901.5,230.0 903.5,230.0 905.5,229.9 907.5,229.9 909.5,229.9 911.5,229.9 912.5,229.9" stroke="#FFC000" stroke-width="2.5" fill="none" stroke-linejoin="round" stroke-linecap="round"/>
<path d="M227.4,689.6 V696.4 M227.4,1223.2 V1215.2 M311.5,689.6 V696.4 M311.5,1223.2 V1215.2 M395.7,689.6 V696.4 M395.7,1223.2 V1215.2 M479.8,689.6 V696.4 M479.8,1223.2 V1215.2 M564.0,689.6 V696.4 M564.0,1223.2 V1215.2 M648.2,689.6 V696.4 M648.2,1223.2 V1215.2 M732.3,689.6 V696.4 M732.3,1223.2 V1215.2 M816.5,689.6 V696.4 M816.5,1223.2 V1215.2 M900.6,689.6 V696.4 M900.6,1223.2 V1215.2 M143.2,756.3 H151.7 M143.2,823.0 H151.7 M143.2,889.7 H151.7 M143.2,956.4 H151.7 M143.2,1023.1 H151.7 M143.2,1089.8 H151.7 M143.2,1156.5 H151.7 M984.8,756.3 H977.3 M984.8,823.0 H977.3 M984.8,889.7 H977.3 M984.8,956.4 H977.3 M984.8,1023.1 H977.3 M984.8,1089.8 H977.3 M984.8,1156.5 H977.3" stroke="#1e1e1e" stroke-width="2.3" fill="none"/>
<rect x="143.2" y="689.6" width="841.6" height="533.6" stroke="#1e1e1e" stroke-width="2.5" fill="none" rx="0.8"/>
<text x="117" y="699.4" class="t29" text-anchor="end">20</text>
<text x="117" y="766.1" class="t29" text-anchor="end">0</text>
<text x="117" y="832.8" class="t29" text-anchor="end">-20</text>
<text x="117" y="899.5" class="t29" text-anchor="end">-40</text>
<text x="117" y="966.2" class="t29" text-anchor="end">-60</text>
<text x="117" y="1032.9" class="t29" text-anchor="end">-80</text>
<text x="117" y="1099.6" class="t29" text-anchor="end">-100</text>
<text x="117" y="1166.3" class="t29" text-anchor="end">-120</text>
<text x="117" y="1233.0" class="t29" text-anchor="end">-140</text>
<text x="139.7" y="1266.4" class="t29" text-anchor="middle">-2.0</text>
<text x="223.9" y="1266.4" class="t29" text-anchor="middle">-1.8</text>
<text x="308.0" y="1266.4" class="t29" text-anchor="middle">-1.6</text>
<text x="392.2" y="1266.4" class="t29" text-anchor="middle">-1.4</text>
<text x="476.3" y="1266.4" class="t29" text-anchor="middle">-1.2</text>
<text x="560.5" y="1266.4" class="t29" text-anchor="middle">-1.0</text>
<text x="644.7" y="1266.4" class="t29" text-anchor="middle">-0.8</text>
<text x="728.8" y="1266.4" class="t29" text-anchor="middle">-0.6</text>
<text x="813.0" y="1266.4" class="t29" text-anchor="middle">-0.4</text>
<text x="897.1" y="1266.4" class="t29" text-anchor="middle">-0.2</text>
<text x="981.3" y="1266.4" class="t29" text-anchor="middle">0.0</text>
<text x="538" y="1326.2" class="t29" text-anchor="middle">Potential / V <tspan font-style="italic">vs</tspan> SCE</text>
<text transform="translate(33.2,948.7) rotate(-90)" class="t29" text-anchor="middle">Δf / kHz</text>
<rect x="708.9" y="1022.1" width="237.1" height="163.7" stroke="#1e1e1e" stroke-width="2.3" fill="#fff"/>
<path d="M751.5,1049.1 H796" stroke="#FFC000" stroke-width="3.6" stroke-linecap="round"/>
<text x="802.5" y="1058.1" class="t28">Thymine</text>
<path d="M751.5,1104.2 H796" stroke="#A5A5A5" stroke-width="3.6" stroke-linecap="round"/>
<text x="802.5" y="1113.2" class="t28">Uracil</text>
<path d="M751.5,1159.3 H796" stroke="#4472C4" stroke-width="3.6" stroke-linecap="round"/>
<text x="802.5" y="1168.3" class="t28">DMH</text>
<path d="M143.5,1116.4 145.5,1116.4 147.5,1116.4 149.5,1116.4 151.5,1116.4 153.5,1116.4 155.5,1116.4 157.5,1116.3 159.5,1116.3 161.5,1116.3 163.5,1116.3 165.5,1116.3 167.5,1116.3 169.5,1116.3 171.5,1116.3 173.5,1116.3 175.5,1116.3 177.6,1116.3 179.6,1116.3 181.6,1116.3 183.6,1116.2 185.6,1116.2 187.6,1116.2 189.6,1116.2 191.6,1116.2 193.6,1116.2 195.6,1116.2 197.6,1116.2 199.6,1116.2 201.6,1116.2 203.6,1116.2 205.6,1116.2 207.6,1116.2 209.6,1116.2 211.6,1116.1 213.6,1116.1 215.6,1116.1 217.6,1116.1 219.6,1116.1 221.6,1116.1 223.6,1116.1 225.6,1116.1 227.6,1116.1 229.6,1116.1 231.6,1116.1 233.6,1116.1 235.6,1116.1 237.6,1116.0 239.6,1116.0 241.6,1116.0 243.6,1116.0 245.7,1116.0 247.7,1116.0 249.7,1116.0 251.7,1116.0 253.7,1115.9 255.7,1115.9 257.7,1115.9 259.7,1115.9 261.7,1115.8 263.7,1115.8 265.7,1115.8 267.7,1115.8 269.7,1115.7 271.7,1115.7 273.7,1115.7 275.7,1115.6 277.7,1115.6 279.7,1115.6 281.7,1115.6 283.7,1115.5 285.7,1115.5 287.7,1115.5 289.7,1115.4 291.7,1115.4 293.7,1115.3 295.7,1115.2 297.7,1115.1 299.7,1115.0 301.7,1114.8 303.7,1114.7 305.7,1114.5 307.7,1114.3 309.7,1114.0 311.6,1113.8 313.6,1113.5 315.6,1113.2 317.6,1113.0 319.6,1112.7 321.6,1112.4 323.5,1112.1 325.5,1111.8 327.5,1111.5 329.5,1111.2 331.4,1110.8 333.4,1110.3 335.3,1109.8 337.2,1109.2 339.1,1108.6 341.0,1108.0 342.9,1107.3 344.8,1106.7 346.7,1106.0 348.6,1105.3 350.4,1104.7 352.3,1104.0 354.2,1103.2 356.0,1102.5 357.8,1101.7 359.6,1100.8 361.4,1099.9 363.1,1098.9 364.9,1097.9 366.6,1096.8 368.2,1095.8 369.9,1094.6 371.4,1093.4 373.0,1092.1 374.5,1090.8 375.9,1089.5 377.4,1088.1 378.8,1086.7 380.2,1085.2 381.5,1083.8 382.9,1082.3 384.2,1080.8 385.5,1079.3 386.9,1077.8 388.1,1076.3 389.4,1074.7 390.7,1073.2 392.0,1071.6 393.2,1070.1 394.5,1068.5 395.8,1067.0 397.0,1065.4 398.3,1063.9 399.6,1062.3 400.8,1060.8 402.1,1059.2 403.4,1057.7 404.6,1056.1 405.9,1054.6 407.2,1053.0 408.4,1051.4 409.7,1049.9 410.9,1048.3 412.1,1046.7 413.4,1045.2 414.6,1043.6 415.8,1042.0 417.1,1040.4 418.3,1038.9 419.5,1037.3 420.8,1035.7 422.0,1034.1 423.2,1032.5 424.4,1030.9 425.7,1029.3 426.9,1027.8 428.1,1026.2 429.4,1024.6 430.6,1023.0 431.8,1021.5 433.1,1019.9 434.3,1018.3 435.6,1016.8 436.9,1015.2 438.1,1013.7 439.4,1012.1 440.7,1010.6 442.0,1009.1 443.3,1007.5 444.6,1006.0 445.8,1004.5 447.1,1002.9 448.4,1001.4 449.7,999.9 451.1,998.4 452.4,996.9 453.7,995.4 455.0,993.9 456.3,992.4 457.7,990.9 459.0,989.4 460.4,987.9 461.7,986.4 463.1,985.0 464.5,983.5 465.9,982.1 467.3,980.7 468.7,979.2 470.1,977.8 471.5,976.3 472.8,974.9 474.2,973.4 475.6,972.0 476.9,970.5 478.3,969.0 479.6,967.5 480.9,966.0 482.2,964.5 483.5,963.0 484.8,961.5 486.1,959.9 487.4,958.4 488.7,956.8 489.9,955.3 491.2,953.7 492.4,952.2 493.7,950.6 494.9,949.0 496.2,947.4 497.4,945.9 498.6,944.3 499.9,942.7 501.2,941.2 502.4,939.6 503.7,938.1 505.0,936.6 506.3,935.1 507.7,933.6 509.0,932.1 510.4,930.6 511.7,929.2 513.1,927.7 514.5,926.3 515.9,924.8 517.2,923.4 518.6,921.9 520.0,920.5 521.4,919.0 522.7,917.5 524.0,916.0 525.4,914.5 526.7,913.1 528.1,911.6 529.4,910.1 530.7,908.6 532.1,907.1 533.4,905.6 534.7,904.1 536.1,902.6 537.4,901.1 538.8,899.7 540.1,898.2 541.5,896.7 542.8,895.2 544.2,893.7 545.5,892.2 546.8,890.7 548.2,889.3 549.5,887.8 550.9,886.3 552.2,884.8 553.5,883.3 554.8,881.8 556.2,880.3 557.5,878.8 558.8,877.3 560.1,875.8 561.5,874.3 562.8,872.8 564.1,871.3 565.5,869.8 566.9,868.4 568.2,866.9 569.6,865.5 571.0,864.0 572.4,862.6 573.9,861.2 575.3,859.8 576.7,858.4 578.2,857.0 579.6,855.7 581.1,854.3 582.6,852.9 584.1,851.6 585.6,850.3 587.1,848.9 588.6,847.6 590.1,846.3 591.6,845.0 593.1,843.7 594.7,842.4 596.2,841.2 597.8,839.9 599.3,838.6 600.9,837.4 602.4,836.1 604.0,834.9 605.6,833.6 607.1,832.4 608.7,831.1 610.3,829.9 611.9,828.7 613.5,827.5 615.1,826.2 616.7,825.0 618.3,823.8 619.9,822.6 621.5,821.4 623.1,820.3 624.7,819.1 626.3,817.9 628.0,816.8 629.6,815.6 631.3,814.5 633.0,813.4 634.6,812.4 636.3,811.3 638.0,810.2 639.7,809.2 641.5,808.2 643.2,807.2 644.9,806.2 646.7,805.2 648.4,804.2 650.2,803.2 651.9,802.3 653.7,801.4 655.5,800.5 657.3,799.5 659.1,798.7 660.9,797.8 662.7,796.9 664.5,796.0 666.3,795.1 668.1,794.3 669.9,793.4 671.7,792.6 673.5,791.7 675.3,790.9 677.2,790.1 679.0,789.3 680.8,788.5 682.7,787.7 684.5,787.0 686.4,786.3 688.3,785.6 690.1,784.9 692.0,784.2 693.9,783.5 695.8,782.8 697.7,782.1 699.6,781.4 701.4,780.7 703.3,780.1 705.2,779.4 707.1,778.7 709.0,778.0 710.9,777.4 712.7,776.7 714.6,776.0 716.5,775.4 718.4,774.8 720.4,774.2 722.3,773.6 724.2,773.0 726.1,772.5 728.0,771.9 730.0,771.4 731.9,770.8 733.8,770.3 735.8,769.8 737.7,769.3 739.6,768.8 741.6,768.3 743.5,767.8 745.5,767.3 747.4,766.9 749.4,766.4 751.3,766.0 753.3,765.6 755.2,765.2 757.2,764.8 759.2,764.4 761.1,764.0 763.1,763.7 765.1,763.3 767.0,763.0 769.0,762.6 771.0,762.3 773.0,761.9 774.9,761.6 776.9,761.3 778.9,761.1 780.9,760.8 782.9,760.6 784.9,760.3 786.8,760.1 788.8,759.9 790.8,759.8 792.8,759.6 794.8,759.4 796.8,759.3 798.8,759.1 800.8,758.9 802.8,758.8 804.8,758.6 806.8,758.5 808.8,758.3 810.8,758.2 812.8,758.0 814.8,757.9 816.8,757.7 818.8,757.6 820.8,757.5 822.8,757.4 824.8,757.3 826.8,757.2 828.8,757.2 830.8,757.1 832.8,757.0 834.8,757.0 836.8,756.9 838.8,756.8 840.8,756.8 842.8,756.7 844.8,756.7 846.8,756.6 848.8,756.5 850.8,756.5 852.8,756.4 854.8,756.4 856.8,756.4 858.8,756.3 860.8,756.3 862.8,756.3 864.8,756.2 866.8,756.2 868.8,756.2 870.8,756.2 872.8,756.2 874.8,756.2 876.8,756.2 878.8,756.2 880.8,756.2 882.8,756.2 884.9,756.2 886.9,756.2 888.9,756.2 890.9,756.2 892.9,756.2 894.9,756.2 896.9,756.2 898.9,756.2 900.9,756.2 902.9,756.2 904.9,756.2 906.9,756.2 908.9,756.2 910.9,756.2 912.9,756.2 914.9,756.2 916.9,756.2 918.9,756.2 920.9,756.2 922.9,756.3 924.9,756.3 926.9,756.3 928.9,756.3 930.9,756.3 932.9,756.3 934.9,756.3 936.9,756.3 938.9,756.3 940.9,756.3 942.9,756.3 944.9,756.3 946.9,756.3 948.9,756.3 951.0,756.3 953.0,756.3 955.0,756.3 957.0,756.3 959.0,756.3 961.0,756.3 963.0,756.3 965.0,756.3 967.0,756.3 969.0,756.3 971.0,756.3 973.0,756.3 975.0,756.3 977.0,756.3 979.0,756.3 981.0,756.3 983.0,756.3 984.0,756.3" stroke="#A5A5A5" stroke-width="3.2" fill="none" stroke-linejoin="round" stroke-linecap="round"/>
<path d="M143.5,1038.4 145.5,1038.3 147.5,1038.3 149.5,1038.2 151.5,1038.1 153.5,1038.0 155.5,1038.0 157.5,1037.9 159.5,1037.8 161.5,1037.7 163.5,1037.7 165.5,1037.7 167.5,1037.8 169.5,1037.9 171.5,1038.0 173.5,1038.1 175.5,1038.2 177.5,1038.3 179.5,1038.5 181.5,1038.6 183.5,1038.6 185.5,1038.6 187.5,1038.6 189.5,1038.5 191.5,1038.3 193.5,1038.2 195.5,1038.1 197.5,1037.9 199.5,1037.8 201.5,1037.7 203.5,1037.6 205.5,1037.5 207.5,1037.6 209.5,1037.6 211.5,1037.7 213.5,1037.8 215.5,1037.9 217.5,1038.0 219.5,1038.1 221.5,1038.2 223.5,1038.3 225.5,1038.4 227.5,1038.5 229.5,1038.5 231.5,1038.6 233.5,1038.7 235.5,1038.7 237.5,1038.7 239.5,1038.8 241.5,1038.8 243.5,1038.9 245.5,1038.9 247.5,1038.9 249.5,1038.9 251.5,1038.9 253.5,1038.8 255.5,1038.7 257.5,1038.6 259.5,1038.4 261.5,1038.3 263.5,1038.2 265.5,1038.1 267.5,1038.0 269.5,1037.9 271.5,1037.7 273.5,1037.6 275.5,1037.6 277.5,1037.5 279.5,1037.5 281.5,1037.5 283.5,1037.5 285.5,1037.5 287.5,1037.5 289.5,1037.5 291.5,1037.5 293.5,1037.5 295.5,1037.5 297.5,1037.6 299.4,1037.7 301.4,1038.0 303.3,1038.4 305.2,1038.7 307.2,1038.9 309.2,1038.9 311.2,1038.9 313.2,1038.9 315.2,1038.8 317.2,1038.8 319.2,1038.8 321.2,1038.7 323.2,1038.7 325.2,1038.7 327.2,1038.7 329.2,1038.6 331.2,1038.6 333.2,1038.6 335.2,1038.7 337.2,1038.7 339.2,1038.7 341.2,1038.7 343.2,1038.8 345.2,1038.8 347.2,1038.8 349.2,1038.9 351.2,1038.9 353.2,1038.9 355.2,1038.9 357.2,1039.0 359.2,1039.0 361.2,1039.0 363.2,1038.9 365.2,1038.9 367.2,1038.9 369.2,1038.8 371.2,1038.8 373.2,1038.8 375.2,1038.7 377.2,1038.7 379.2,1038.7 381.2,1038.6 383.2,1038.6 385.2,1038.6 387.2,1038.5 389.2,1038.5 391.2,1038.5 393.2,1038.4 395.2,1038.4 397.2,1038.2 399.2,1038.1 401.2,1037.9 403.2,1037.8 405.2,1037.6 407.2,1037.5 409.2,1037.3 411.2,1037.2 413.2,1037.1 415.2,1036.9 417.2,1036.8 419.2,1036.7 421.2,1036.5 423.2,1036.4 425.2,1036.2 427.2,1036.0 429.2,1035.9 431.2,1035.7 433.2,1035.5 435.2,1035.3 437.2,1035.1 439.2,1034.9 441.1,1034.7 443.1,1034.5 445.1,1034.2 447.1,1033.9 449.0,1033.6 451.0,1033.1 452.9,1032.6 454.8,1031.9 456.6,1031.3 458.5,1030.5 460.3,1029.8 462.1,1028.9 463.9,1028.0 465.6,1027.0 467.2,1025.9 468.8,1024.8 470.3,1023.5 471.7,1022.1 473.0,1020.6 474.3,1019.1 475.5,1017.5 476.6,1015.8 477.7,1014.2 478.8,1012.5 479.8,1010.8 480.8,1009.0 481.7,1007.3 482.7,1005.5 483.6,1003.7 484.5,1002.0 485.5,1000.2 486.4,998.4 487.3,996.6 488.2,994.8 489.1,993.1 490.0,991.3 491.0,989.5 491.9,987.7 492.8,985.9 493.7,984.2 494.7,982.4 495.6,980.6 496.5,978.9 497.5,977.1 498.4,975.3 499.3,973.5 500.3,971.8 501.2,970.0 502.1,968.2 503.1,966.5 504.1,964.7 505.0,963.0 506.0,961.2 507.0,959.5 508.0,957.8 509.0,956.0 510.1,954.3 511.1,952.6 512.2,950.9 513.2,949.2 514.2,947.5 515.3,945.8 516.4,944.1 517.4,942.4 518.5,940.7 519.5,939.0 520.6,937.3 521.6,935.6 522.7,933.9 523.7,932.2 524.8,930.5 525.8,928.7 526.9,927.0 527.9,925.3 528.9,923.6 530.0,921.9 531.0,920.2 532.0,918.5 533.1,916.8 534.1,915.0 535.1,913.3 536.1,911.6 537.1,909.9 538.2,908.1 539.2,906.4 540.2,904.7 541.3,903.0 542.3,901.3 543.4,899.6 544.5,898.0 545.6,896.3 546.8,894.7 548.0,893.1 549.1,891.4 550.3,889.8 551.6,888.3 552.8,886.7 554.0,885.1 555.2,883.5 556.5,881.9 557.7,880.3 558.9,878.8 560.2,877.2 561.4,875.6 562.6,874.0 563.8,872.4 565.1,870.9 566.3,869.3 567.5,867.7 568.7,866.1 570.0,864.5 571.2,863.0 572.5,861.4 573.7,859.8 574.9,858.3 576.2,856.7 577.5,855.1 578.7,853.6 580.0,852.0 581.3,850.5 582.6,849.0 583.8,847.4 585.1,845.9 586.4,844.4 587.7,842.8 589.0,841.3 590.3,839.8 591.6,838.3 592.9,836.8 594.2,835.2 595.6,833.7 596.9,832.2 598.2,830.7 599.6,829.3 600.9,827.8 602.3,826.3 603.6,824.9 605.0,823.4 606.4,822.0 607.8,820.6 609.3,819.2 610.7,817.8 612.2,816.4 613.6,815.1 615.1,813.7 616.6,812.4 618.1,811.1 619.7,809.8 621.2,808.6 622.8,807.3 624.4,806.1 626.0,804.9 627.6,803.8 629.2,802.6 630.9,801.5 632.5,800.3 634.2,799.2 635.8,798.1 637.5,797.0 639.2,795.9 640.9,794.9 642.6,793.8 644.3,792.8 646.0,791.8 647.8,790.8 649.5,789.8 651.3,788.9 653.0,787.9 654.8,787.0 656.6,786.0 658.4,785.1 660.1,784.2 661.9,783.3 663.7,782.5 665.6,781.6 667.4,780.8 669.2,779.9 671.0,779.1 672.9,778.4 674.7,777.6 676.6,776.9 678.4,776.2 680.3,775.5 682.2,774.9 684.1,774.3 686.0,773.7 687.9,773.1 689.9,772.6 691.8,772.1 693.7,771.6 695.7,771.2 697.6,770.7 699.6,770.3 701.5,769.8 703.5,769.4 705.5,769.0 707.4,768.6 709.4,768.2 711.3,767.8 713.3,767.4 715.3,767.0 717.2,766.7 719.2,766.3 721.2,766.0 723.2,765.7 725.1,765.4 727.1,765.1 729.1,764.8 731.1,764.5 733.1,764.3 735.1,764.0 737.0,763.7 739.0,763.5 741.0,763.2 743.0,763.0 745.0,762.7 747.0,762.5 749.0,762.2 750.9,762.0 752.9,761.8 754.9,761.6 756.9,761.3 758.9,761.1 760.9,760.9 762.9,760.7 764.9,760.5 766.9,760.3 768.9,760.1 770.9,759.9 772.9,759.8 774.8,759.6 776.8,759.4 778.8,759.2 780.8,759.1 782.8,759.0 784.8,758.8 786.8,758.7 788.8,758.6 790.8,758.5 792.8,758.4 794.8,758.3 796.8,758.2 798.8,758.1 800.8,758.0 802.8,757.9 804.8,757.8 806.8,757.7 808.8,757.6 810.8,757.5 812.8,757.4 814.8,757.3 816.8,757.2 818.8,757.1 820.8,757.1 822.8,757.0 824.8,756.9 826.8,756.9 828.8,756.8 830.8,756.8 832.8,756.7 834.8,756.7 836.8,756.7 838.8,756.6 840.8,756.6 842.8,756.5 844.8,756.5 846.8,756.5 848.8,756.4 850.8,756.4 852.8,756.4 854.9,756.3 856.9,756.3 858.9,756.3 860.9,756.3 862.9,756.2 864.9,756.2 866.9,756.2 868.9,756.2 870.9,756.2 872.9,756.2 874.9,756.2 876.9,756.2 878.9,756.2 880.9,756.2 882.9,756.2 884.9,756.2 886.9,756.2 888.9,756.2 890.9,756.2 892.9,756.2 894.9,756.2 896.9,756.2 898.9,756.2 900.9,756.2 902.9,756.2 904.9,756.2 906.9,756.2 908.9,756.2 910.9,756.2 912.9,756.2 914.9,756.2 916.9,756.2 918.9,756.2 920.9,756.2 922.9,756.3 924.9,756.3 926.9,756.3 928.9,756.3 930.9,756.3 932.9,756.3 934.9,756.3 936.9,756.3 938.9,756.3 941.0,756.3 943.0,756.3 945.0,756.3 947.0,756.3 949.0,756.3 951.0,756.3 953.0,756.3 955.0,756.3 957.0,756.3 959.0,756.3 961.0,756.3 963.0,756.3 965.0,756.3 967.0,756.3 969.0,756.3 971.0,756.3 973.0,756.3 975.0,756.3 977.0,756.3 979.0,756.3 981.0,756.3 983.0,756.3 984.0,756.3" stroke="#4472C4" stroke-width="3.2" fill="none" stroke-linejoin="round" stroke-linecap="round"/>
<path d="M143.5,1176.0 145.4,1175.5 147.4,1175.1 149.3,1174.6 151.3,1174.2 153.3,1173.7 155.2,1173.2 157.1,1172.8 159.1,1172.3 161.0,1171.8 162.9,1171.3 164.9,1170.7 166.8,1170.1 168.7,1169.5 170.6,1168.9 172.5,1168.3 174.4,1167.6 176.2,1166.9 178.1,1166.2 180.0,1165.5 181.9,1164.8 183.7,1164.2 185.6,1163.5 187.5,1162.8 189.4,1162.2 191.3,1161.6 193.2,1160.9 195.1,1160.3 197.0,1159.6 198.9,1158.9 200.7,1158.2 202.6,1157.5 204.4,1156.7 206.3,1156.0 208.1,1155.1 209.9,1154.3 211.7,1153.4 213.5,1152.6 215.3,1151.7 217.1,1150.8 218.8,1149.8 220.6,1148.8 222.3,1147.9 224.1,1146.8 225.8,1145.8 227.5,1144.7 229.1,1143.6 230.8,1142.5 232.4,1141.4 234.0,1140.2 235.7,1139.0 237.2,1137.8 238.8,1136.6 240.4,1135.4 242.0,1134.1 243.5,1132.9 245.1,1131.6 246.6,1130.3 248.2,1129.1 249.7,1127.8 251.3,1126.5 252.8,1125.2 254.3,1123.9 255.9,1122.7 257.4,1121.4 258.9,1120.0 260.4,1118.7 261.8,1117.4 263.3,1116.0 264.7,1114.6 266.1,1113.1 267.4,1111.7 268.8,1110.2 270.1,1108.7 271.3,1107.1 272.6,1105.6 273.8,1104.0 275.0,1102.4 276.2,1100.8 277.4,1099.2 278.6,1097.6 279.7,1095.9 280.8,1094.3 282.0,1092.6 283.1,1090.9 284.2,1089.3 285.3,1087.6 286.4,1085.9 287.4,1084.2 288.5,1082.5 289.6,1080.8 290.6,1079.1 291.7,1077.4 292.8,1075.8 293.8,1074.1 294.9,1072.4 296.0,1070.7 297.1,1069.0 298.2,1067.3 299.3,1065.7 300.4,1064.0 301.5,1062.3 302.6,1060.7 303.7,1059.0 304.8,1057.3 305.9,1055.7 307.1,1054.0 308.2,1052.3 309.3,1050.7 310.4,1049.0 311.5,1047.3 312.6,1045.6 313.7,1044.0 314.8,1042.3 315.9,1040.6 317.0,1038.9 318.1,1037.3 319.1,1035.6 320.2,1033.9 321.3,1032.2 322.4,1030.5 323.4,1028.8 324.5,1027.1 325.6,1025.4 326.6,1023.7 327.7,1022.0 328.7,1020.3 329.8,1018.6 330.9,1016.9 331.9,1015.2 333.0,1013.5 334.1,1011.8 335.1,1010.1 336.2,1008.4 337.3,1006.8 338.4,1005.1 339.4,1003.4 340.5,1001.7 341.6,1000.0 342.8,998.4 343.9,996.7 345.1,995.1 346.2,993.5 347.4,991.9 348.6,990.3 349.8,988.7 351.0,987.1 352.2,985.5 353.4,983.9 354.7,982.3 355.9,980.7 357.1,979.1 358.3,977.5 359.6,976.0 360.8,974.4 362.0,972.8 363.3,971.2 364.5,969.6 365.7,968.1 367.0,966.5 368.2,964.9 369.4,963.3 370.6,961.7 371.9,960.1 373.1,958.6 374.3,957.0 375.5,955.4 376.7,953.8 378.0,952.2 379.2,950.6 380.4,949.0 381.6,947.4 382.8,945.9 384.1,944.3 385.3,942.7 386.5,941.1 387.8,939.6 389.0,938.0 390.3,936.4 391.6,934.9 392.8,933.3 394.1,931.8 395.4,930.3 396.7,928.7 398.0,927.2 399.3,925.7 400.6,924.2 402.0,922.7 403.3,921.2 404.6,919.7 405.9,918.2 407.2,916.6 408.5,915.1 409.7,913.5 411.0,912.0 412.2,910.4 413.4,908.8 414.7,907.2 415.9,905.7 417.1,904.1 418.3,902.5 419.6,900.9 420.8,899.4 422.1,897.8 423.4,896.3 424.7,894.8 426.0,893.3 427.4,891.8 428.7,890.3 430.1,888.9 431.5,887.4 432.9,886.0 434.3,884.6 435.7,883.1 437.1,881.7 438.5,880.3 439.9,878.8 441.3,877.4 442.7,876.0 444.1,874.6 445.5,873.1 446.9,871.7 448.3,870.3 449.8,869.0 451.2,867.6 452.7,866.2 454.2,864.9 455.7,863.5 457.1,862.2 458.6,860.8 460.1,859.5 461.6,858.1 463.0,856.7 464.5,855.3 465.9,853.9 467.3,852.5 468.7,851.1 470.1,849.7 471.5,848.3 472.9,846.8 474.3,845.4 475.7,844.0 477.2,842.6 478.6,841.1 480.0,839.7 481.4,838.3 482.9,837.0 484.3,835.6 485.8,834.2 487.2,832.8 488.7,831.5 490.2,830.1 491.6,828.7 493.1,827.4 494.6,826.0 496.1,824.7 497.6,823.4 499.1,822.0 500.6,820.7 502.1,819.4 503.6,818.0 505.1,816.7 506.6,815.4 508.1,814.1 509.6,812.8 511.2,811.5 512.7,810.3 514.3,809.0 515.8,807.7 517.4,806.5 519.0,805.3 520.6,804.1 522.2,802.9 523.8,801.7 525.5,800.6 527.1,799.5 528.8,798.4 530.5,797.3 532.1,796.2 533.8,795.1 535.5,794.1 537.3,793.1 539.0,792.1 540.8,791.1 542.5,790.2 544.3,789.3 546.1,788.4 547.9,787.6 549.7,786.7 551.5,785.9 553.4,785.1 555.2,784.3 557.0,783.5 558.9,782.7 560.7,782.0 562.6,781.3 564.5,780.6 566.4,779.9 568.2,779.2 570.1,778.5 572.0,777.9 573.9,777.3 575.8,776.6 577.7,776.1 579.7,775.5 581.6,775.0 583.5,774.4 585.5,773.9 587.4,773.5 589.3,773.0 591.3,772.6 593.3,772.2 595.2,771.7 597.2,771.3 599.1,771.0 601.1,770.6 603.1,770.2 605.0,769.9 607.0,769.5 609.0,769.2 611.0,768.9 612.9,768.6 614.9,768.3 616.9,768.0 618.9,767.7 620.9,767.5 622.9,767.2 624.9,767.0 626.8,766.8 628.8,766.6 630.8,766.4 632.8,766.2 634.8,766.0 636.8,765.8 638.8,765.6 640.8,765.5 642.8,765.3 644.8,765.2 646.8,765.1 648.8,764.9 650.8,764.8 652.8,764.7 654.8,764.6 656.8,764.5 658.8,764.3 660.8,764.2 662.8,764.1 664.8,764.0 666.8,763.8 668.8,763.7 670.8,763.6 672.8,763.5 674.8,763.3 676.8,763.2 678.8,763.0 680.8,762.9 682.8,762.7 684.8,762.6 686.8,762.4 688.8,762.3 690.8,762.1 692.8,762.0 694.8,761.8 696.7,761.7 698.7,761.5 700.7,761.4 702.7,761.2 704.7,761.1 706.7,760.9 708.7,760.8 710.7,760.7 712.7,760.5 714.7,760.4 716.7,760.2 718.7,760.1 720.7,759.9 722.7,759.8 724.7,759.7 726.7,759.5 728.7,759.4 730.7,759.3 732.7,759.1 734.7,759.0 736.7,758.9 738.7,758.7 740.7,758.6 742.7,758.5 744.7,758.4 746.7,758.3 748.7,758.2 750.7,758.1 752.7,758.0 754.7,757.9 756.7,757.8 758.7,757.7 760.7,757.6 762.7,757.5 764.7,757.4 766.7,757.3 768.7,757.2 770.7,757.1 772.7,757.0 774.7,756.9 776.7,756.8 778.7,756.8 780.7,756.7 782.7,756.6 784.7,756.6 786.7,756.5 788.7,756.5 790.7,756.5 792.7,756.4 794.7,756.4 796.7,756.4 798.7,756.3 800.7,756.3 802.7,756.3 804.7,756.2 806.7,756.2 808.7,756.2 810.8,756.1 812.8,756.1 814.8,756.1 816.8,756.1 818.8,756.1 820.8,756.1 822.8,756.0 824.8,756.0 826.8,756.0 828.8,756.0 830.8,756.0 832.8,756.0 834.8,756.0 836.8,756.0 838.8,756.0 840.8,756.1 842.8,756.1 844.8,756.1 846.8,756.1 848.8,756.1 850.8,756.1 852.8,756.1 854.8,756.1 856.8,756.1 858.8,756.1 860.8,756.1 862.8,756.1 864.8,756.1 866.8,756.1 868.8,756.1 870.8,756.1 872.8,756.1 874.8,756.1 876.8,756.1 878.8,756.1 880.9,756.2 882.9,756.2 884.9,756.2 886.9,756.2 888.9,756.2 890.9,756.2 892.9,756.2 894.9,756.2 896.9,756.2 898.9,756.2 900.9,756.2 902.9,756.2 904.9,756.2 906.9,756.2 908.9,756.2 910.9,756.2 912.9,756.2 914.9,756.2 916.9,756.2 918.9,756.2 920.9,756.2 922.9,756.2 924.9,756.2 926.9,756.2 928.9,756.2 930.9,756.2 932.9,756.2 934.9,756.2 936.9,756.2 938.9,756.2 940.9,756.2 942.9,756.3 944.9,756.3 946.9,756.3 948.9,756.3 951.0,756.3 953.0,756.3 955.0,756.3 957.0,756.3 959.0,756.3 961.0,756.3 963.0,756.3 965.0,756.3 967.0,756.3 969.0,756.3 971.0,756.3 973.0,756.3 975.0,756.3 977.0,756.3 979.0,756.3 981.0,756.3 983.0,756.3 984.0,756.3" stroke="#FFC000" stroke-width="3.2" fill="none" stroke-linejoin="round" stroke-linecap="round"/>
</g>
</svg>
</body></html>
